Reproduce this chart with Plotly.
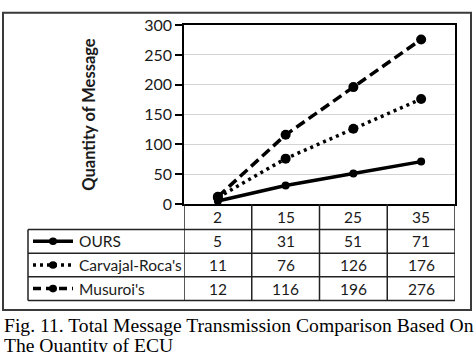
import plotly.graph_objects as go

# ---- data ----
categories = ["2", "15", "25", "35"]
series_names = ["OURS", "Carvajal-Roca's", "Musuroi's"]
ours = [5, 31, 51, 71]
carvajal = [11, 76, 126, 176]
musuroi = [12, 116, 196, 276]
y_ticks = [0, 50, 100, 150, 200, 250, 300]
y_title = "Quantity of Message"
caption_1 = "Fig. 11. Total Message Transmission Comparison Based On"
caption_2 = "The Quantity of ECU"

W, H = 474, 352
def px(x):
    return x / W
def py(y):
    return 1 - y / H

series_vals = [ours, carvajal, musuroi]
dashes = ["solid", "3px,4px", "10px,5px"]
msizes = [8, 10, 10]
xs = list(range(len(categories)))

fig = go.Figure()
for name, vals, d, ms in zip(series_names, series_vals, dashes, msizes):
    fig.add_trace(go.Scatter(
        x=xs, y=vals, mode="lines+markers", name=name,
        line=dict(color="black", width=3.5, dash=d),
        marker=dict(color="black", size=ms),
        showlegend=False, cliponaxis=False,
    ))

shapes = []
annotations = []

# outer frame
shapes.append(dict(type="rect", xref="paper", yref="paper",
                   x0=px(3), x1=px(471), y0=py(317), y1=py(3),
                   line=dict(color="#3a3a3a", width=2)))

# table geometry (pixels)
row_lines = [232, 257, 282, 307]
row_centers = [244.5, 269.5, 294.5]
tbl_left = 28
line_col = "#222222"

for ry in row_lines:
    shapes.append(dict(type="line", xref="paper", yref="paper",
                       x0=px(tbl_left), x1=px(455), y0=py(ry), y1=py(ry),
                       line=dict(color=line_col, width=1.5)))
for k in range(len(categories) + 1):
    shapes.append(dict(type="line", xref="x", yref="paper",
                       x0=k - 0.5, x1=k - 0.5, y0=py(205), y1=py(307),
                       line=dict(color=line_col, width=1.5)))
shapes.append(dict(type="line", xref="paper", yref="paper",
                   x0=px(tbl_left), x1=px(tbl_left), y0=py(232), y1=py(307),
                   line=dict(color=line_col, width=1.5)))

tfont = dict(family="Lato, Open Sans, sans-serif", size=15.5, color="#1a1a1a")
for i, c in enumerate(categories):
    annotations.append(dict(x=i, y=py(219), xref="x", yref="paper", text=c,
                            showarrow=False, font=tfont, xanchor="center", yanchor="middle"))
for r, (name, vals, d) in enumerate(zip(series_names, series_vals, dashes)):
    cy = row_centers[r]
    for i, v in enumerate(vals):
        annotations.append(dict(x=i, y=py(cy), xref="x", yref="paper", text=str(v),
                                showarrow=False, font=tfont, xanchor="center", yanchor="middle"))
    annotations.append(dict(x=px(77), y=py(cy), xref="paper", yref="paper", text=name,
                            showarrow=False, font=tfont, xanchor="left", yanchor="middle"))
    kd = "solid" if d == "solid" else ("3px,4px" if r == 1 else "8px,5px")
    shapes.append(dict(type="line", xref="paper", yref="paper",
                       x0=px(33), x1=px(73), y0=py(cy), y1=py(cy),
                       line=dict(color="black", width=3.5, dash=kd)))
    rr = 4
    shapes.append(dict(type="circle", xref="paper", yref="paper",
                       x0=px(53 - rr), x1=px(53 + rr), y0=py(cy + rr), y1=py(cy - rr),
                       fillcolor="black", line=dict(color="black", width=0)))

# caption
cfont = dict(family="Liberation Serif, Times New Roman, serif", size=19.6, color="black")
annotations.append(dict(x=px(2), y=py(334), xref="paper", yref="paper", text=caption_1,
                        showarrow=False, font=cfont, xanchor="left", yanchor="middle"))
annotations.append(dict(x=px(2), y=py(355), xref="paper", yref="paper", text=caption_2,
                        showarrow=False, font=cfont, xanchor="left", yanchor="middle"))

fig.update_layout(
    width=W, height=H,
    margin=dict(l=0, r=0, t=0, b=0),
    paper_bgcolor="white", plot_bgcolor="white",
    shapes=shapes, annotations=annotations,
    font=dict(family="Lato, Open Sans, sans-serif", color="#1a1a1a"),
    xaxis=dict(domain=[px(184), px(455)], range=[-0.5, len(categories) - 0.5],
               showgrid=False, zeroline=False, showticklabels=False, ticks="",
               showline=True, linecolor="black", linewidth=1.5, mirror=True, fixedrange=True),
    yaxis=dict(domain=[py(205), py(16)], range=[0, 300], tickvals=y_ticks,
               showgrid=True, gridcolor="#d4d4d4", gridwidth=1.2, zeroline=False,
               ticks="outside", ticklen=7, tickwidth=1.5, tickcolor="black",
               showline=True, linecolor="black", linewidth=1.5, mirror=True,
               tickfont=dict(family="Lato, Open Sans, sans-serif", size=16, color="#1a1a1a"),
               title=dict(text="<b>" + y_title + "</b>", standoff=44,
                          font=dict(family="Lato, Open Sans, sans-serif", size=16.5, color="#1a1a1a")),
               fixedrange=True),
)

fig.write_html("out.html")
